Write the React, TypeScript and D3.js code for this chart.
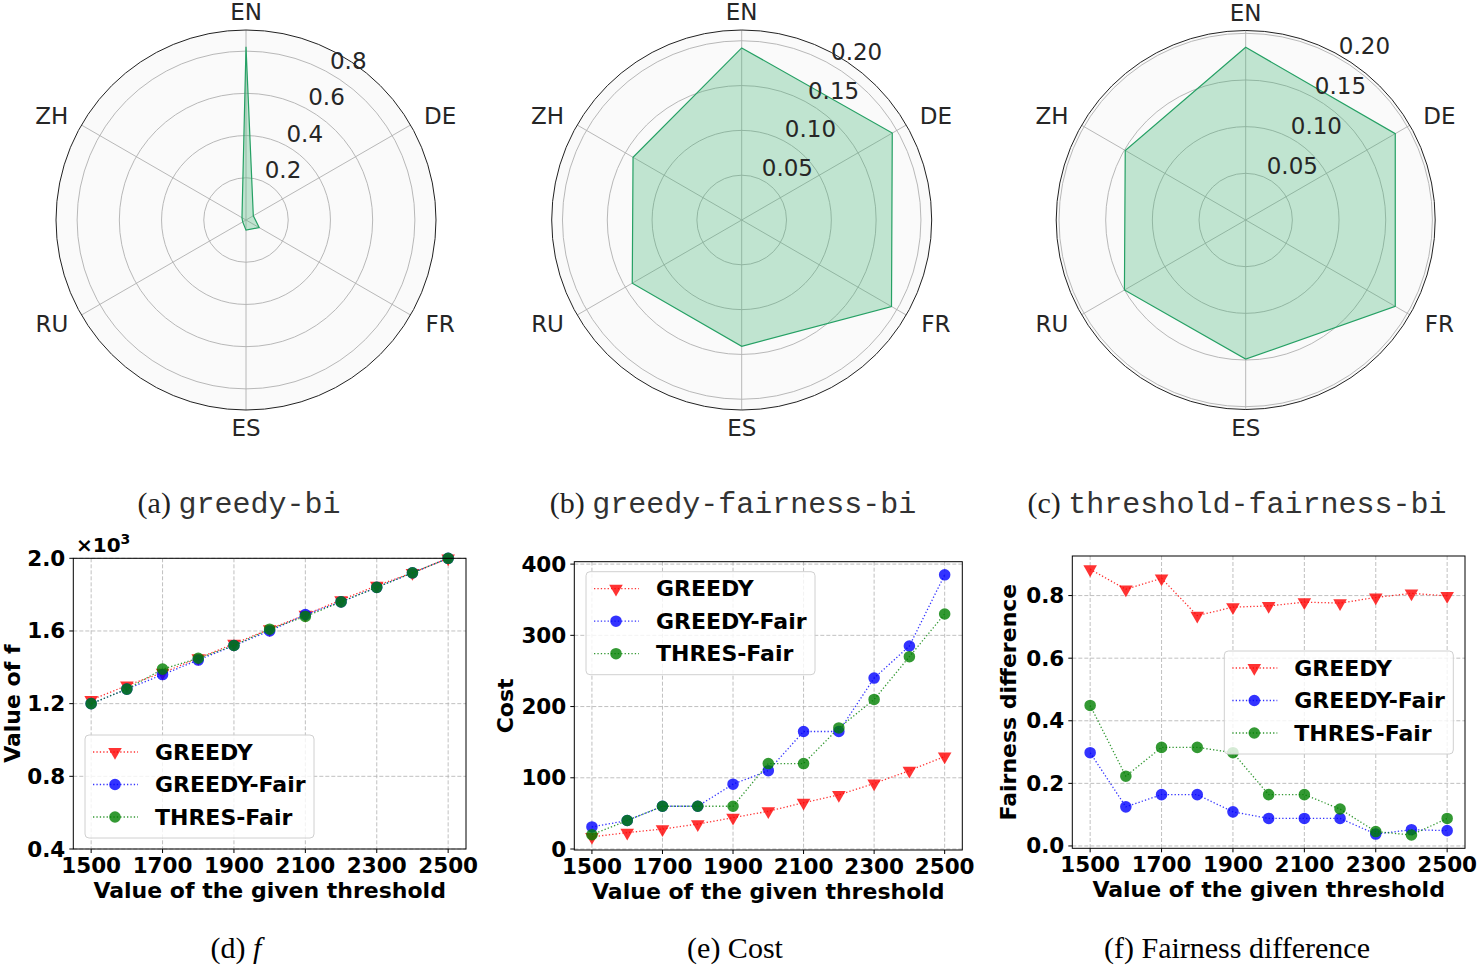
import * as React from "react";
import * as d3 from "d3";

// radar panels (a)-(c)
const langs = ["EN", "DE", "FR", "ES", "RU", "ZH"];
const greedyBi = [0.82, 0.04, 0.072, 0.048, 0.018, 0.022];
const greedyFairBi = [0.192, 0.194, 0.193, 0.141, 0.141, 0.14];
const thresFairBi = [0.185, 0.185, 0.185, 0.149, 0.15, 0.149];
const ticksA = [0.2, 0.4, 0.6, 0.8];
const ticksBC = [0.05, 0.1, 0.15, 0.2];

// line panels (d)-(f)
const thresholds = [1500, 1600, 1700, 1800, 1900, 2000, 2100, 2200, 2300, 2400, 2500];
const xTicks = [1500, 1700, 1900, 2100, 2300, 2500];
const seriesNames = ["GREEDY", "GREEDY-Fair", "THRES-Fair"];

const fGreedy = [1.22, 1.3, 1.37, 1.45, 1.53, 1.61, 1.69, 1.77, 1.85, 1.92, 2.0];
const fGreedyFair = [1.2, 1.28, 1.36, 1.44, 1.52, 1.6, 1.69, 1.76, 1.84, 1.92, 2.0];
const fThresFair = [1.2, 1.28, 1.39, 1.45, 1.52, 1.61, 1.68, 1.76, 1.84, 1.92, 2.0];
const fTicks = [0.4, 0.8, 1.2, 1.6, 2.0];

const costGreedy = [17, 23, 28, 35, 44, 53, 65, 76, 92, 110, 130];
const costGreedyFair = [31, 40, 60, 60, 91, 110, 165, 165, 240, 285, 385];
const costThresFair = [20, 40, 60, 60, 60, 120, 120, 170, 210, 270, 330];
const costTicks = [0, 100, 200, 300, 400];

const fdGreedy = [0.884, 0.82, 0.855, 0.736, 0.763, 0.767, 0.779, 0.776, 0.794, 0.807, 0.799];
const fdGreedyFair = [0.298, 0.125, 0.164, 0.164, 0.109, 0.088, 0.088, 0.088, 0.038, 0.052, 0.049];
const fdThresFair = [0.449, 0.223, 0.315, 0.315, 0.298, 0.164, 0.164, 0.118, 0.046, 0.035, 0.088];
const fdTicks = [0.0, 0.2, 0.4, 0.6, 0.8];

const colors = ["#ff0000", "#0000ff", "#008000"];
const FONT = "DejaVu Sans";

function Radar({ cx, cy, R, rmax, ticks, fmt, values }) {
    const r = d3.scaleLinear().domain([0, rmax]).range([0, R]);
    const n = langs.length;
    const ang = i => (i * 2 * Math.PI) / n;
    const poly = d3.lineRadial()
        .angle((d, i) => ang(i))
        .radius(d => r(d))
        .curve(d3.curveLinearClosed);
    const la = (31 * Math.PI) / 180;
    return (
        <g>
            <circle cx={cx} cy={cy} r={R} fill="#fafafa" />
            {ticks.map(t => (
                <circle key={t} cx={cx} cy={cy} r={r(t)} fill="none" stroke="#b0b0b0" strokeWidth={0.9} />
            ))}
            {langs.map((l, i) => (
                <line key={l} x1={cx} y1={cy}
                    x2={cx + R * Math.sin(ang(i))} y2={cy - R * Math.cos(ang(i))}
                    stroke="#b0b0b0" strokeWidth={0.9} />
            ))}
            <path d={poly(values)} transform={`translate(${cx},${cy})`}
                fill="#3cb371" fillOpacity={0.3} stroke="#25a064" strokeWidth={1.2} />
            <circle cx={cx} cy={cy} r={R} fill="none" stroke="#222" strokeWidth={1} />
            {ticks.map(t => (
                <text key={t} x={cx + r(t) * Math.sin(la) - 3} y={cy - r(t) * Math.cos(la) - 14}
                    dominantBaseline="central" fontSize={23} fill="#262626" fontFamily={FONT}>
                    {d3.format(fmt)(t)}
                </text>
            ))}
            {langs.map((l, i) => {
                const s = Math.sin(ang(i));
                const c = Math.cos(ang(i));
                const shift = Math.abs(s) > 0.1 ? Math.sign(s) * 14 : 0;
                return (
                    <text key={l} x={cx + (R + 18) * s + shift} y={cy - (R + 18) * c}
                        textAnchor="middle" dominantBaseline="central" fontSize={23}
                        fill="#262626" fontFamily={FONT}>{l}</text>
                );
            })}
        </g>
    );
}

function padDomain(arrs) {
    const all = arrs.flat();
    const lo = d3.min(all), hi = d3.max(all);
    const m = (hi - lo) * 0.05;
    return [lo - m, hi + m];
}

function LinePanel({ box, yDomain, yTicks, yFmt, data, ylabel, ylabelX, legend }) {
    const x = d3.scaleLinear().domain([1450, 2550]).range([box.l, box.r]);
    const y = d3.scaleLinear().domain(yDomain).range([box.b, box.t]);
    const line = d3.line().x((d, i) => x(thresholds[i])).y(d => y(d));
    const tri = d3.symbol(d3.symbolTriangle, 80);
    const circ = d3.symbol(d3.symbolCircle, 105);
    const marker = (k, px, py, key) =>
        k === 0 ? (
            <path key={key} d={tri()} transform={`translate(${px},${py}) rotate(180)`}
                fill={colors[k]} fillOpacity={0.8} />
        ) : (
            <path key={key} d={circ()} transform={`translate(${px},${py})`}
                fill={colors[k]} fillOpacity={0.8} />
        );
    const cyMid = (box.t + box.b) / 2;
    return (
        <g fontFamily={FONT} fontWeight="bold">
            {xTicks.map(t => (
                <line key={"gx" + t} x1={x(t)} x2={x(t)} y1={box.t} y2={box.b}
                    stroke="#b0b0b0" strokeWidth={0.8} strokeDasharray="4,2" />
            ))}
            {yTicks.map(t => (
                <line key={"gy" + t} x1={box.l} x2={box.r} y1={y(t)} y2={y(t)}
                    stroke="#b0b0b0" strokeWidth={0.8} strokeDasharray="4,2" />
            ))}
            {data.map((s, k) => (
                <g key={k}>
                    <path d={line(s)} fill="none" stroke={colors[k]} strokeOpacity={0.8}
                        strokeWidth={1.3} strokeDasharray="1.3,2.1" />
                    {s.map((v, i) => marker(k, x(thresholds[i]), y(v), i))}
                </g>
            ))}
            <rect x={box.l} y={box.t} width={box.r - box.l} height={box.b - box.t}
                fill="none" stroke="#000" strokeWidth={1} />
            {xTicks.map(t => (
                <g key={"tx" + t}>
                    <line x1={x(t)} x2={x(t)} y1={box.b} y2={box.b + 4} stroke="#000" />
                    <text x={x(t)} y={box.b + 24} textAnchor="middle" fontSize={21.5}>{t}</text>
                </g>
            ))}
            {yTicks.map(t => (
                <g key={"ty" + t}>
                    <line x1={box.l - 4} x2={box.l} y1={y(t)} y2={y(t)} stroke="#000" />
                    <text x={box.l - 8} y={y(t) + 7.5} textAnchor="end" fontSize={21.5}>
                        {d3.format(yFmt)(t)}
                    </text>
                </g>
            ))}
            <text x={(box.l + box.r) / 2} y={box.b + 49} textAnchor="middle" fontSize={22}>
                Value of the given threshold
            </text>
            <text transform={`translate(${ylabelX},${cyMid}) rotate(-90)`} textAnchor="middle"
                dominantBaseline="central" fontSize={22}>{ylabel}</text>
            <g>
                <rect x={legend.x} y={legend.y} width={229} height={103} rx={4}
                    fill="#fff" fillOpacity={0.8} stroke="#d0d0d0" strokeWidth={1} />
                {seriesNames.map((nm, k) => {
                    const ly = legend.y + 17 + k * 32.5;
                    return (
                        <g key={nm}>
                            <line x1={legend.x + 8} x2={legend.x + 53} y1={ly} y2={ly}
                                stroke={colors[k]} strokeOpacity={0.8} strokeWidth={1.3}
                                strokeDasharray="1.3,2.1" />
                            {marker(k, legend.x + 30, ly, "m")}
                            <text x={legend.x + 70} y={ly + 7.5} fontSize={22}>{nm}</text>
                        </g>
                    );
                })}
            </g>
        </g>
    );
}

export default function App() {
    const serif = "Liberation Serif";
    const mono = "Liberation Mono";
    const captionTop = [
        { cx: 239, tag: "(a) ", name: "greedy-bi" },
        { cx: 733, tag: "(b) ", name: "greedy-fairness-bi" },
        { cx: 1237, tag: "(c) ", name: "threshold-fairness-bi" },
    ];
    return (
        <svg width={1480} height={967} style={{ position: "absolute", left: 0, top: 0, background: "#fff" }}>
            <Radar cx={246} cy={220} R={190} rmax={0.9} ticks={ticksA} fmt=".1f" values={greedyBi} />
            <Radar cx={741.7} cy={220} R={190} rmax={0.212} ticks={ticksBC} fmt=".2f" values={greedyFairBi} />
            <Radar cx={1245.7} cy={220} R={189.5} rmax={0.203} ticks={ticksBC} fmt=".2f" values={thresFairBi} />

            {captionTop.map(c => (
                <text key={c.tag} x={c.cx} y={513} textAnchor="middle" fill="#222">
                    <tspan fontFamily={serif} fontSize={30}>{c.tag}</tspan>
                    <tspan fontFamily={mono} fontSize={30} fill="#333">{c.name}</tspan>
                </text>
            ))}

            <LinePanel box={{ l: 73.3, r: 466, t: 558.3, b: 849 }} yDomain={[0.4, 2.0]}
                yTicks={fTicks} yFmt=".1f" data={[fGreedy, fGreedyFair, fThresFair]}
                ylabel="Value of f" ylabelX={12} legend={{ x: 85, y: 735 }} />
            <text x={76} y={552} fontFamily={FONT} fontWeight="bold" fontSize={20}>
                ×10<tspan dy={-8} fontSize={14}>3</tspan>
            </text>
            <LinePanel box={{ l: 574.3, r: 962.3, t: 561.7, b: 850 }}
                yDomain={padDomain([costGreedy, costGreedyFair, costThresFair])}
                yTicks={costTicks} yFmt="d" data={[costGreedy, costGreedyFair, costThresFair]}
                ylabel="Cost" ylabelX={505} legend={{ x: 586, y: 571.7 }} />
            <LinePanel box={{ l: 1072.3, r: 1465, t: 556, b: 848.3 }}
                yDomain={padDomain([fdGreedy, fdGreedyFair, fdThresFair])}
                yTicks={fdTicks} yFmt=".1f" data={[fdGreedy, fdGreedyFair, fdThresFair]}
                ylabel="Fairness difference" ylabelX={1008} legend={{ x: 1224.3, y: 651 }} />

            <g fontFamily={serif} fontSize={30} textAnchor="middle" fill="#000">
                <text x={236} y={958}>(d) <tspan fontStyle="italic">f</tspan></text>
                <text x={735} y={958}>(e) Cost</text>
                <text x={1237} y={958}>(f) Fairness difference</text>
            </g>
        </svg>
    );
}
